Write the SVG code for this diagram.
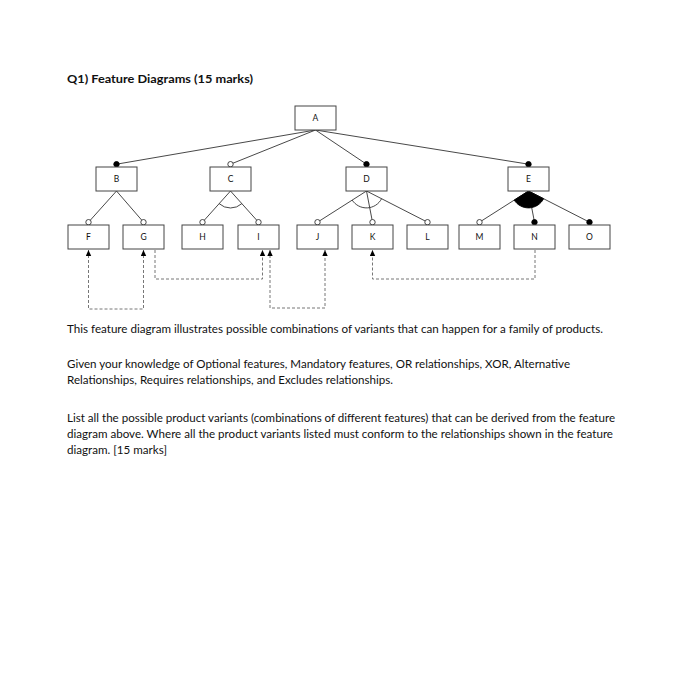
<svg xmlns="http://www.w3.org/2000/svg" width="674" height="700" viewBox="0 0 674 700">
<style>
.box{fill:#fff;stroke:#444;stroke-width:1}
.lbl{font-family:Lato,"Liberation Sans",sans-serif;font-size:8.5px;fill:#111;text-anchor:middle}
.edge{stroke:#333;stroke-width:0.9;fill:none}
.open{fill:#fff;stroke:#333;stroke-width:0.9}
.full{fill:#000;stroke:#000;stroke-width:0.9}
.req{stroke:#777;stroke-width:1;stroke-dasharray:3 2;fill:none}
.txt{font-family:Lato,"Liberation Sans",sans-serif;font-size:11px;fill:#111}
.ttl{font-family:Lato,"Liberation Sans",sans-serif;font-size:11.5px;font-weight:bold;fill:#111}
</style>
<defs>
<marker id="arr" markerUnits="userSpaceOnUse" markerWidth="6" markerHeight="6" viewBox="0 0 5 4.5" refX="5" refY="2.25" orient="auto-start-reverse">
<path d="M0,0 L5,2.25 L0,4.5 Z" fill="#000"/>
</marker>
</defs>
<rect width="674" height="700" fill="#fff"/>
<text class="ttl" x="67" y="82.5" textLength="186" lengthAdjust="spacingAndGlyphs">Q1) Feature Diagrams (15 marks)</text>

<g id="connectors">
<path class="edge" d="M315.5,130 L116.5,164.2 M315.5,130 L230.5,164.2 M315.5,130 L366.5,164.2 M315.5,130 L528.5,164.2"/>
<path class="edge" d="M116.5,191 L88.5,222.2 M116.5,191 L143.5,222.2"/>
<path class="edge" d="M230.5,191 L202.5,222.2 M230.5,191 L258.5,222.2"/>
<path class="edge" d="M219.1,203.6 A17,17 0 0 0 241.9,203.6"/>
<path class="edge" d="M366.5,191 L317.5,222.2 M366.5,191 L372.5,222.2 M366.5,191 L427.5,222.2"/>
<path class="edge" d="M352.2,200.1 A17,17 0 0 0 381.6,198.7"/>
<path class="edge" d="M528.5,191 L479.5,222.2 M528.5,191 L534.5,222.2 M528.5,191 L589.5,222.2"/>
<path d="M528.5,191 L514.2,200.1 A17,17 0 0 0 543.6,198.7 Z" fill="#000" stroke="#000" stroke-width="0.9"/>
<circle class="full" cx="116.5" cy="164.2" r="2.7"/>
<circle class="open" cx="230.5" cy="164.2" r="2.7"/>
<circle class="full" cx="366.5" cy="164.2" r="2.7"/>
<circle class="full" cx="528.5" cy="164.2" r="2.7"/>
<circle class="open" cx="88.5" cy="222.2" r="2.7"/>
<circle class="open" cx="143.5" cy="222.2" r="2.7"/>
<circle class="open" cx="202.5" cy="222.2" r="2.7"/>
<circle class="open" cx="258.5" cy="222.2" r="2.7"/>
<circle class="open" cx="317.5" cy="222.2" r="2.7"/>
<circle class="open" cx="372.5" cy="222.2" r="2.7"/>
<circle class="open" cx="427.5" cy="222.2" r="2.7"/>
<circle class="open" cx="479.5" cy="222.2" r="2.7"/>
<circle class="full" cx="534.5" cy="222.2" r="2.7"/>
<circle class="full" cx="589.5" cy="222.2" r="2.7"/>
<path class="req" d="M88.5,250 V309 H143.5 V250" marker-start="url(#arr)" marker-end="url(#arr)"/>
<path class="req" d="M155,250 V279 H262.5 V250" marker-end="url(#arr)"/>
<path class="req" d="M270,250 V308 H325 V250" marker-start="url(#arr)" marker-end="url(#arr)"/>
<path class="req" d="M535,250 V279 H372.5 V250" marker-end="url(#arr)"/>
</g>

<g id="A"><rect class="box" x="295" y="106" width="41" height="24"/><text class="lbl" x="315.5" y="121">A</text></g>
<g id="B"><rect class="box" x="96" y="167" width="41" height="24"/><text class="lbl" x="116.5" y="182">B</text></g>
<g id="C"><rect class="box" x="210" y="167" width="41" height="24"/><text class="lbl" x="230.5" y="182">C</text></g>
<g id="D"><rect class="box" x="346" y="167" width="41" height="24"/><text class="lbl" x="366.5" y="182">D</text></g>
<g id="E"><rect class="box" x="508" y="167" width="41" height="24"/><text class="lbl" x="528.5" y="182">E</text></g>
<g id="F"><rect class="box" x="68" y="225" width="41" height="24"/><text class="lbl" x="88.5" y="240">F</text></g>
<g id="G"><rect class="box" x="123" y="225" width="41" height="24"/><text class="lbl" x="143.5" y="240">G</text></g>
<g id="H"><rect class="box" x="182" y="225" width="41" height="24"/><text class="lbl" x="202.5" y="240">H</text></g>
<g id="I"><rect class="box" x="238" y="225" width="41" height="24"/><text class="lbl" x="258.5" y="240">I</text></g>
<g id="J"><rect class="box" x="297" y="225" width="41" height="24"/><text class="lbl" x="317.5" y="240">J</text></g>
<g id="K"><rect class="box" x="352" y="225" width="41" height="24"/><text class="lbl" x="372.5" y="240">K</text></g>
<g id="L"><rect class="box" x="407" y="225" width="41" height="24"/><text class="lbl" x="427.5" y="240">L</text></g>
<g id="M"><rect class="box" x="459" y="225" width="41" height="24"/><text class="lbl" x="479.5" y="240">M</text></g>
<g id="N"><rect class="box" x="514" y="225" width="41" height="24"/><text class="lbl" x="534.5" y="240">N</text></g>
<g id="O"><rect class="box" x="569" y="225" width="41" height="24"/><text class="lbl" x="589.5" y="240">O</text></g>

<text class="txt" x="67" y="333" textLength="536" lengthAdjust="spacingAndGlyphs">This feature diagram illustrates possible combinations of variants that can happen for a family of products.</text>
<text class="txt" x="67" y="367.5" textLength="503" lengthAdjust="spacingAndGlyphs">Given your knowledge of Optional features, Mandatory features, OR relationships, XOR, Alternative</text>
<text class="txt" x="67" y="384" textLength="326" lengthAdjust="spacingAndGlyphs">Relationships, Requires relationships, and Excludes relationships.</text>
<text class="txt" x="67" y="421.5" textLength="548" lengthAdjust="spacingAndGlyphs">List all the possible product variants (combinations of different features) that can be derived from the feature</text>
<text class="txt" x="67" y="437.8" textLength="546" lengthAdjust="spacingAndGlyphs">diagram above. Where all the product variants listed must conform to the relationships shown in the feature</text>
<text class="txt" x="67" y="454" textLength="100" lengthAdjust="spacingAndGlyphs">diagram. [15 marks]</text>
</svg>
